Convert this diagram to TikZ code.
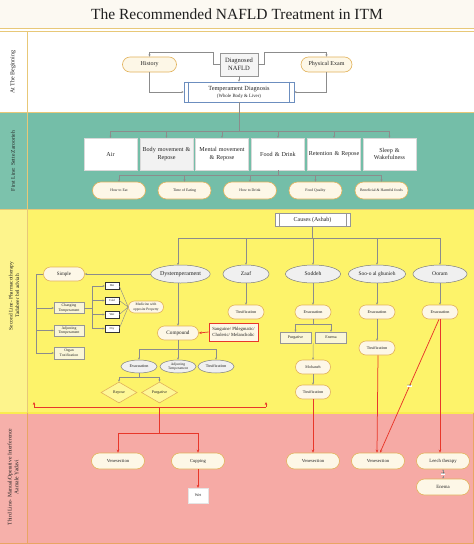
\documentclass[tikz,border=0pt]{standalone}
\usepackage{fontspec}
\setmainfont{Liberation Serif}
\usetikzlibrary{shapes.geometric,shapes.misc,arrows.meta,calc}
\newcommand\fsz[1]{\fontsize{#1pt}{\dimexpr #1pt*6/5\relax}\selectfont}
\definecolor{titlebg}{RGB}{252,249,242}
\definecolor{goldc}{RGB}{232,200,120}
\definecolor{tealc}{RGB}{116,190,168}
\definecolor{tealL}{RGB}{124,194,172}
\definecolor{yelc}{RGB}{253,243,106}
\definecolor{yelL}{RGB}{253,244,140}
\definecolor{pinkc}{RGB}{246,170,165}
\definecolor{pinkL}{RGB}{246,176,170}
\definecolor{yline}{RGB}{250,236,80}
\definecolor{oline}{RGB}{233,165,100}
\definecolor{pillf}{RGB}{253,247,231}
\definecolor{pillb}{RGB}{226,178,90}
\definecolor{ellf}{RGB}{240,240,240}
\definecolor{ellb}{RGB}{125,125,125}
\definecolor{linec}{RGB}{140,140,140}
\definecolor{redc}{RGB}{232,55,42}
\definecolor{bluec}{RGB}{108,142,191}
\definecolor{txt}{RGB}{35,35,35}
\definecolor{boxb}{RGB}{150,150,150}
\definecolor{creamb}{RGB}{250,246,216}
\begin{document}
\begin{tikzpicture}[x=1pt,y=-1pt,
  sz/.style 2 args={minimum width=#1pt, minimum height=#2pt},
  base/.style={inner sep=0.5pt, align=center, text=txt},
  pill/.style={base, rounded rectangle, draw=pillb, fill=pillf, line width=0.6pt},
  ell/.style={base, ellipse, draw=ellb, fill=ellf, line width=0.5pt},
  wbox/.style={base, rectangle, draw=white!85!black, fill=white, line width=0.4pt, text width=52pt, minimum width=53pt, minimum height=32pt, font=\fsz{6.1}},
  gbox/.style={base, rectangle, draw=boxb, fill=creamb, line width=0.4pt},
  kbox/.style={base, rectangle, draw=black!80, fill=white, line width=0.5pt},
  dia/.style={base, diamond, draw=pillb, fill=yelc!70!white, line width=0.6pt},
  gl/.style={draw=linec, line width=0.45pt},
  arr/.style={gl, -{Stealth[length=2.2pt,width=2pt]}},
  rl/.style={draw=redc, line width=0.75pt},
  rarr/.style={rl, -{Stealth[length=3pt,width=2.6pt]}},
  orlab/.style={fill=white, inner sep=0.6pt, font=\fsz{2.6}, text=txt}
]
\useasboundingbox (0,0) rectangle (474,544);
% backgrounds
\fill[titlebg] (0,0) rectangle (474,28);
\fill[white] (0,28) rectangle (474,112);
\fill[tealc] (0,112) rectangle (474,209);
\fill[tealL] (0,112) rectangle (27,209);
\fill[yelc] (0,209) rectangle (474,413);
\fill[yelL] (0,209) rectangle (27,413);
\fill[pinkc] (0,413) rectangle (474,544);
\fill[pinkL] (0,413) rectangle (27,544);
\draw[goldc, line width=0.9pt] (0,28.5) -- (474,28.5);
\draw[goldc, line width=0.9pt] (0,31.5) -- (474,31.5);
\draw[goldc, line width=0.7pt] (0,112) -- (474,112);
\draw[goldc, line width=0.7pt] (0,209) -- (474,209);
\draw[yline, line width=1.2pt] (0,413) -- (474,413);
\draw[goldc, line width=0.8pt] (27,32) -- (27,413);
\draw[oline, line width=0.8pt] (27,413) -- (27,544);
\draw[oline, line width=0.8pt] (0,543.5) -- (474,543.5);
\draw[oline, line width=0.6pt] (473.6,413) -- (473.6,544);

% title
\node[font=\fsz{15.5}, text=black!88] (title) at (237,14.5) {The Recommended NAFLD Treatment in ITM};

% lane labels
\node[base, rotate=90, font=\fsz{6}] (lab1) at (13,72) {At The Beginning};
\node[base, rotate=90, font=\fsz{5.6}] (lab2) at (13,161) {First Line: Sette Zaroorieh};
\node[base, rotate=90, font=\fsz{5.4}] (lab3) at (14,296) {Second Line- Pharmacotherapy\\Tadabeer bel adviah};
\node[base, rotate=90, font=\fsz{5.6}] (lab4) at (13,477) {Third Line- Manual/Operative Interference\\Aamale Yadavi};

% ===== Section 1
\node[base, rectangle, draw=boxb, fill=black!4, sz={38}{23}, font=\fsz{6.5}, line width=0.6pt] (dx) at (239,64.5) {Diagnosed\\NAFLD};
\node[pill, sz={55}{15}, font=\fsz{6}] (hist) at (149.5,64.5) {History};
\node[pill, sz={52}{15}, font=\fsz{6}] (phys) at (326.5,64.5) {Physical Exam};
\node[base, rectangle, draw=bluec, fill=white, sz={110}{20}, font=\fsz{6.3}, line width=0.6pt] (temp) at (239,92) {Temperament Diagnosis\\[-0.5pt]{\fsz{4.8}(Whole Body \& Liver)}};
\draw[bluec, line width=0.6pt] ([xshift=5pt]temp.north west) -- ([xshift=5pt]temp.south west);
\draw[bluec, line width=0.6pt] ([xshift=-5pt]temp.north east) -- ([xshift=-5pt]temp.south east);
\draw[arr] (dx.west) -- ++(-6,0) -- ++(0,-12.5) -| (hist.north);
\draw[arr] (dx.east) -- ++(6,0) -- ++(0,-12.5) -| (phys.north);
\draw[arr] (hist.south) |- (temp.west);
\draw[arr] (phys.south) |- (temp.east);
\draw[arr] (dx.south) -- (temp.north);

% ===== Section 2
\node[wbox] (b1) at (110.5,154) {Air};
\node[wbox, fill=black!5] (b2) at (166.5,154) {Body movement \&\\Repose};
\node[wbox] (b3) at (222,154) {Mental movement\\\& Repose};
\node[wbox] (b4) at (278,154) {Food \& Drink};
\node[wbox] (b5) at (334,154) {Retention \& Repose};
\node[wbox] (b6) at (389.5,154) {Sleep \&\\Wakefulness};
\coordinate (bar1) at (239,131);
\draw[gl] (temp.south) -- (bar1);
\draw[gl] (bar1 -| b1.north) -- (bar1 -| b6.north);
\foreach \b in {b1,b2,b3,b4,b5,b6} \draw[arr] (bar1 -| \b.north) -- (\b.north);

\node[pill, sz={54}{17}, font=\fsz{3.8}] (p1) at (119,190.5) {How to Eat};
\node[pill, sz={54}{17}, font=\fsz{3.8}] (p2) at (184.5,190.5) {Time of Eating};
\node[pill, sz={54}{17}, font=\fsz{3.8}] (p3) at (250,190.5) {How to Drink};
\node[pill, sz={54}{17}, font=\fsz{3.8}] (p4) at (315.5,190.5) {Food Quality};
\node[pill, sz={54}{17}, font=\fsz{3.8}] (p5) at (381.5,190.5) {Beneficial \& Harmful foods};
\coordinate (bar2) at (278,175.5);
\draw[gl] (b4.south) -- (bar2);
\draw[gl] (bar2 -| p1.north) -- (bar2 -| p5.north);
\foreach \p in {p1,p2,p3,p4,p5} \draw[arr] (bar2 -| \p.north) -- (\p.north);

% ===== Section 3
\node[base, rectangle, draw=boxb, fill=white, sz={75}{13}, font=\fsz{6}, line width=0.5pt] (cause) at (312.5,220) {Causes (Ashab)};
\draw[boxb, line width=0.5pt] ([xshift=4pt]cause.north west) -- ([xshift=4pt]cause.south west);
\draw[boxb, line width=0.5pt] ([xshift=-4pt]cause.north east) -- ([xshift=-4pt]cause.south east);

\node[ell, sz={56}{18}, font=\fsz{6}] (dys) at (180.5,274) {Dystemperament};
\node[ell, sz={46}{18}, font=\fsz{5.6}] (zaaf) at (246,274) {Zaaf};
\node[ell, sz={55}{18}, font=\fsz{5.6}] (sod) at (313,274) {Soddeh};
\node[ell, sz={57}{18}, font=\fsz{5.4}] (soo) at (377,274) {Soo-o al ghunieh};
\node[ell, sz={54}{18}, font=\fsz{5.6}] (oor) at (440,274) {Ooram};

\node[pill, sz={42}{14}, font=\fsz{5.2}] (comp) at (178,333) {Compound};
\coordinate (bar3) at (312.5,238);
\draw[gl] (cause.south) -- (bar3);
\draw[gl] (bar3 -| comp.north) -- (bar3 -| oor.north);
\draw[arr] (bar3 -| comp.north) -- ([yshift=-0.3pt]comp.north |- dys.north);
\foreach \e in {zaaf,sod,soo,oor} \draw[arr] (bar3 -| \e.north) -- (\e.north);

\node[pill, sz={37}{14}, font=\fsz{4.2}] (tz) at (246,312) {Toxification};
\node[pill, sz={37}{14}, font=\fsz{4.2}] (ev1) at (313,312) {Evacuation};
\node[pill, sz={37}{14}, font=\fsz{4.2}] (ev2) at (377,312) {Evacuation};
\node[pill, sz={37}{14}, font=\fsz{4.2}] (ev3) at (440,312) {Evacuation};
\draw[arr] (zaaf.south) -- (tz.north);
\draw[arr] (sod.south) -- (ev1.north);
\draw[arr] (soo.south) -- (ev2.north);
\draw[arr] (oor.south) -- (ev3.north);

% Soddeh branch
\node[gbox, sz={31}{11}, font=\fsz{4}] (purg) at (295.5,337.5) {Purgative};
\node[gbox, sz={31}{11}, font=\fsz{4}] (enem) at (331,337.5) {Enema};
\node[pill, sz={36}{14}, font=\fsz{4}] (mob) at (313,367) {Mobaneh};
\node[pill, sz={36}{14}, font=\fsz{4.2}] (tox2) at (313,392) {Toxification};
\coordinate (bar4) at (313,324);
\draw[gl] (ev1.south) -- (bar4);
\draw[gl] (bar4 -| purg.north) -- (bar4 -| enem.north);
\draw[arr] (bar4 -| purg.north) -- (purg.north);
\draw[arr] (bar4 -| enem.north) -- (enem.north);
\draw[arr] ($(purg.south)!0.5!(enem.south)$) -- (mob.north);
\draw[arr] (mob.south) -- (tox2.north);

% Soo-o branch
\node[pill, sz={37}{14}, font=\fsz{4.2}] (tox3) at (377,348) {Toxification};
\draw[arr] (ev2.south) -- (tox3.north);

% Dystemperament branch
\node[pill, sz={42}{14}, font=\fsz{5}] (simple) at (64,274) {Simple};
\draw[arr] (dys.west) -- (simple.east);
\node[gbox, sz={30}{11}, font=\fsz{3.8}] (chg) at (69,308) {Changing\\Temperament};
\node[gbox, sz={30}{11}, font=\fsz{3.8}] (adj) at (69,330.5) {Adjusting\\Temperament};
\node[gbox, sz={30}{12}, font=\fsz{3.8}] (organ) at (69,353) {Organ\\Toxification};
\coordinate (lv) at (36,274);
\draw[arr] (simple.west) -- (lv) |- (organ.west);
\draw[arr] (lv |- chg.west) -- (chg.west);
\draw[arr] (lv |- adj.west) -- (adj.west);

\node[kbox, sz={14}{7}, font=\fsz{3}] (hot) at (112,286) {Hot};
\node[kbox, sz={14}{7}, font=\fsz{3}] (cold) at (112,300.5) {Cold};
\node[kbox, sz={14}{7}, font=\fsz{3}] (wet) at (112,314.5) {Wet};
\node[kbox, sz={14}{7}, font=\fsz{3}] (dry) at (112,328.5) {Dry};
\coordinate (hv) at (92,308);
\draw[gl] (chg.east) -- (hv);
\draw[gl] (hv |- hot.west) -- (hv |- dry.west);
\foreach \q in {hot,cold,wet,dry} \draw[arr] (hv |- \q.west) -- (\q.west);
\node[pill, sz={36}{12}, font=\fsz{3.6}] (med) at (146,307) {Medicine with\\opposite Property};
\foreach \q in {hot,cold,wet,dry} \draw[gl] (\q.east) -- (med.west);

\draw[arr] (comp.north |- dys.south) -- (comp.north);
\node[base, rectangle, draw=redc, fill=pillf, sz={49}{18}, font=\fsz{4.7}, line width=0.8pt] (sang) at (233.5,332) {Sanguine/ Phlegmatic/\\Choleric/ Melancholic};
\draw[rarr] (sang.west) -- (comp.east);

\node[ell, sz={36}{13}, font=\fsz{4.2}] (evac) at (139,366.5) {Evacuation};
\node[ell, sz={36}{13}, font=\fsz{3.6}] (adjt) at (178,366.5) {Adjusting\\Temperament};
\node[ell, sz={36}{13}, font=\fsz{4.2}] (toxe) at (216,366.5) {Toxification};
\coordinate (bar5) at (178,349);
\draw[gl] (comp.south) -- (bar5);
\draw[gl] (bar5 -| evac.north) -- (bar5 -| toxe.north);
\foreach \e in {evac,adjt,toxe} \draw[arr] (bar5 -| \e.north) -- (\e.north);

\node[dia, sz={36}{21}, font=\fsz{4}] (rep) at (119,392.5) {Repose};
\node[dia, sz={36}{21}, font=\fsz{4}] (purg2) at (159.5,392.5) {Purgative};
\coordinate (bar6) at (139,377);
\draw[gl] (evac.south) -- (bar6);
\draw[gl] (bar6 -| rep.north) -- (bar6 -| purg2.north);
\draw[arr] (bar6 -| rep.north) -- (rep.north);
\draw[arr] (bar6 -| purg2.north) -- (purg2.north);

% red connector line across the bottom of second line
\coordinate (ra) at (34,407);
\coordinate (rb) at (266,407);
\coordinate (rc) at (159,407);
\draw[rl] (ra) -- (rb);
\draw[rarr] (ra) -- ++(0,-5);
\draw[rarr] (rb) -- ++(0,-5);

% ===== Section 4
\node[pill, sz={54}{16}, font=\fsz{4.6}] (ven1) at (118,461) {Venesection};
\node[pill, sz={54}{16}, font=\fsz{4.6}] (cup) at (198,461) {Cupping};
\node[base, rectangle, draw=white!90!black, fill=white, sz={20}{15}, font=\fsz{4}] (wetc) at (198,495.5) {Wet};
\node[pill, sz={54}{16}, font=\fsz{4.6}] (ven2) at (313,461) {Venesection};
\node[pill, sz={54}{16}, font=\fsz{4.6}] (ven3) at (378,461) {Venesection};
\node[pill, sz={54}{16}, font=\fsz{4.8}] (leech) at (443,461) {Leech therapy};
\node[pill, sz={54}{16}, font=\fsz{4.8}] (enema2) at (443,487) {Enema};

\coordinate (bar7) at (159,433);
\draw[rl] (rc) -- (bar7);
\draw[rl] (bar7 -| ven1.north) -- (bar7 -| cup.north);
\draw[rarr] (bar7 -| ven1.north) -- (ven1.north);
\draw[rarr] (bar7 -| cup.north) -- (cup.north);
\draw[rarr] (cup.south) -- (wetc.north);

\draw[rarr] (tox2.south) -- (ven2.north);
\draw[rarr] (tox3.south -| ven3.north) -- ([xshift=-1pt]ven3.north);
\draw[rarr] (ev3.south) -- (ev3.south |- leech.north);
\draw[rarr] ([xshift=-1pt]ev3.south) -- ([xshift=2pt]ven3.north) node[pos=0.5, orlab] (or1) {OR};
\draw[gl, dashed, {Stealth[length=1.5pt,width=1.5pt]}-{Stealth[length=1.5pt,width=1.5pt]}] (leech.south) -- (enema2.north) node[midway, orlab] (or2) {OR};
\end{tikzpicture}
\end{document}
